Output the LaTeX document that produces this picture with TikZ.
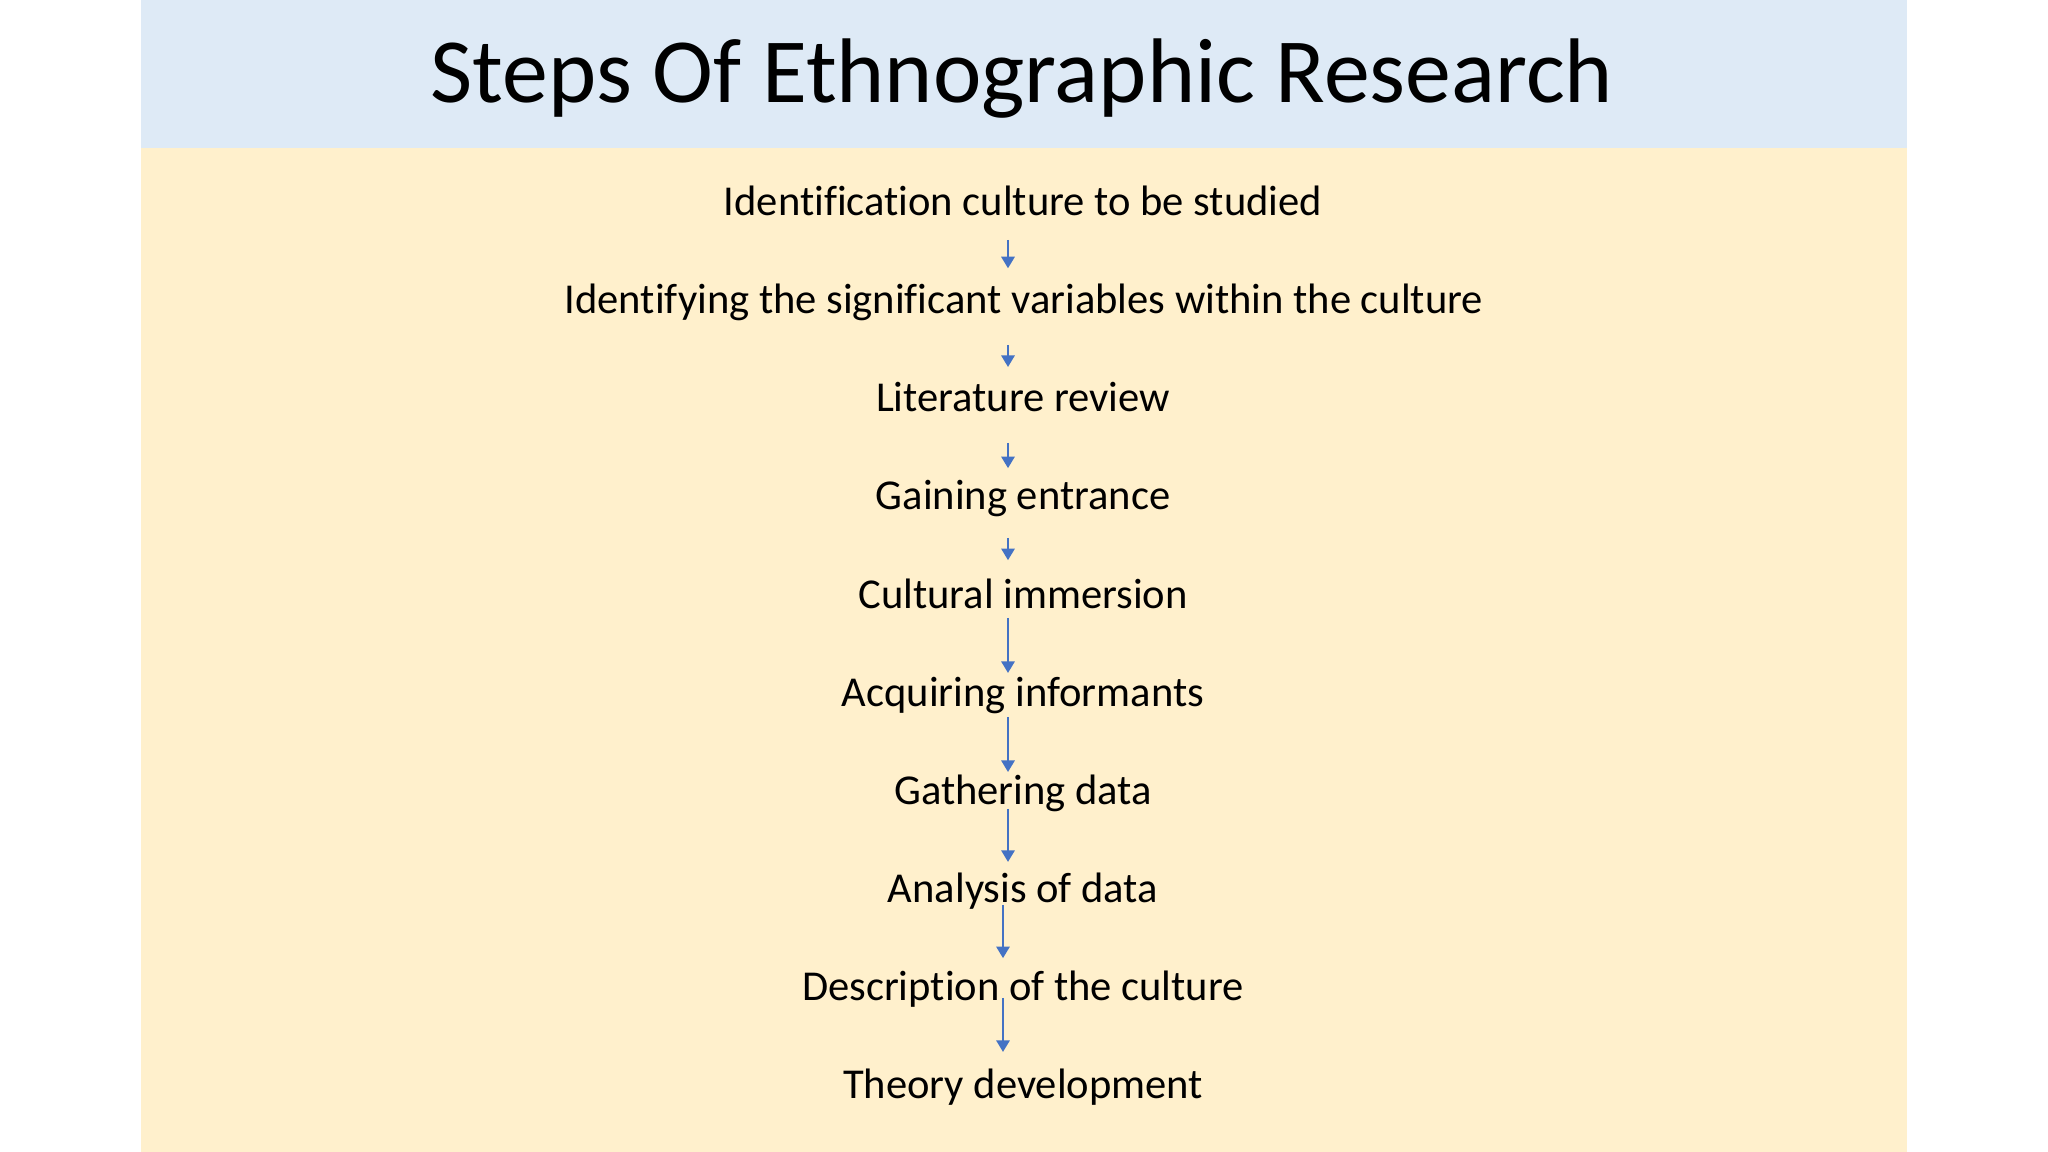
\documentclass[tikz,border=0pt]{standalone}
\usepackage{fontspec}
\setmainfont[Ligatures=CommonOff]{Carlito}
\usepackage{tikz}
\usetikzlibrary{arrows.meta}
\definecolor{titleblue}{RGB}{222,234,246}
\definecolor{bodycream}{RGB}{255,240,204}
\definecolor{arrowblue}{RGB}{68,114,196}
\tikzset{schritt/.style={anchor=base,inner sep=0pt,font=\fontsize{12.1}{14}\selectfont},
         flow/.style={draw=arrowblue,line width=0.6pt,-{Triangle[width=3.8pt,length=3.3pt]}}}

\begin{document}
\begin{tikzpicture}[x=0.01cm,y=-0.01cm]
    \useasboundingbox (0,0) rectangle (2048,1152);
    \fill[bodycream] (141,0) rectangle (1907,1152);
    \fill[titleblue] (141,0) rectangle (1907,148);
    \node[anchor=base,inner sep=0pt,font=\fontsize{26.1}{30}\selectfont] (titel) at (1022,103) {Steps Of Ethnographic Research};

    \coordinate (ax) at (1008,0);
    \coordinate (bx) at (1003,0);

    \path node [schritt] (1) at (1023,216) {Identification culture to be studied}
          node [schritt] (2) at (1024,314) {Identifying the significant variables within the culture}
          node [schritt] (3) at (1023,412) {Literature review}
          node [schritt] (4) at (1023,510) {Gaining entrance}
          node [schritt] (5) at (1023,608) {Cultural immersion}
          node [schritt] (6) at (1023,706) {Acquiring informants}
          node [schritt] (7) at (1023,804) {Gathering data}
          node [schritt] (8) at (1023,902) {Analysis of data}
          node [schritt] (9) at (1023,1000) {Description of the culture}
          node [schritt] (10) at (1023,1098) {Theory development}

         (1.base -| ax) edge [flow, shorten <=6.8pt, shorten >=13pt] (2.base -| ax)
         (2.base -| ax) edge [flow, shorten <=8.8pt, shorten >=12.8pt] (3.base -| ax)
         (3.base -| ax) edge [flow, shorten <=8.8pt, shorten >=11.9pt] (4.base -| ax)
         (4.base -| ax) edge [flow, shorten <=7.9pt, shorten >=13.6pt] (5.base -| ax)
         (5.base -| ax) edge [flow, shorten <=2.8pt, shorten >=9.4pt] (6.base -| ax)
         (6.base -| ax) edge [flow, shorten <=3.1pt, shorten >=9.1pt] (7.base -| ax)
         (7.base -| ax) edge [flow, shorten <=1.4pt, shorten >=11.4pt] (8.base -| ax)
         (8.base -| bx) edge [flow, shorten <=0.8pt, shorten >=11.9pt] (9.base -| bx)
         (9.base -| bx) edge [flow, shorten <=-0.6pt, shorten >=13.1pt] (10.base -| bx);
\end{tikzpicture}
\end{document}
